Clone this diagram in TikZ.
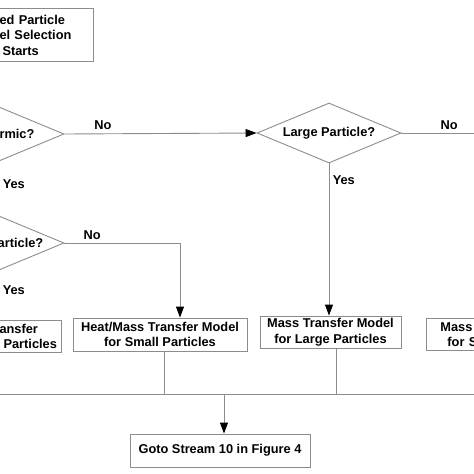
\documentclass[tikz,border=0pt]{standalone}
\usepackage{fontspec}
\setmainfont{Liberation Sans}
\usetikzlibrary{shapes.geometric,arrows.meta}
\definecolor{linegray}{RGB}{140,140,140}
\begin{document}
\begin{tikzpicture}[x=1pt,y=-1pt,
    font=\fontsize{12.8}{15.5}\selectfont\bfseries,
    box/.style={rectangle,draw=linegray,line width=0.9pt,inner ysep=2pt,align=center},
    decision/.style={diamond,draw=linegray,line width=0.9pt,minimum width=144pt,minimum height=60pt,inner sep=0pt,shape aspect=2.4},
    flow/.style={draw=linegray,line width=0.9pt},
    arr/.style={flow,-{Triangle[length=11pt,width=8pt,color=black]}}]
    \useasboundingbox (0,0) rectangle (474,474);
    \clip (0,0) rectangle (474,474);

    % Start box (cut at the left edge)
    \node[box,anchor=north east,text width=90pt,align=left,inner xsep=4pt,minimum height=53pt] (start) at (94,8) {ed Particle\\el Selection\\\hspace*{3pt}Starts};

    % Decisions
    \node[decision] (heat) at (-8,134) {\hspace*{50pt}rmic?};
    \node[decision] (large) at (329,133) {Large Particle?};
    \node[decision] (small) at (-8,243) {\hspace*{57pt}article?};

    % Model boxes
    \node[box,anchor=north east,text width=58pt,align=left,inner xsep=4pt,minimum height=32pt] (largeheat) at (62,320) {ansfer\\\hspace*{4pt}Particles};
    \node[box,minimum width=174pt,minimum height=33pt] (smallheat) at (160,334.5) {Heat/Mass Transfer Model\\for Small Particles};
    \node[box,minimum width=141pt,minimum height=32pt] (largemass) at (330.5,332) {Mass Transfer Model\\for Large Particles};
    \node[box,anchor=north west,text width=60pt,align=left,inner xsep=14pt,minimum height=32pt] (smallmass) at (426,318) {Mass\\\hspace*{7pt}for S};

    % End box
    \node[box,minimum width=180pt,minimum height=33pt] (goto) at (220,450.5) {Goto Stream 10 in Figure 4};

    \coordinate (largeout) at (490,133);
    \coordinate (busL) at (-20,394);
    \coordinate (busR) at (494,394);

    % Decision edges
    \draw[arr] (heat.east) -- node[pos=0.2,above] {No} (large.west);
    \draw[flow] (large.east) -- node[pos=0.54,above] {No} (largeout);
    \draw[arr] (large.south) -- node[pos=0.11,right] {Yes} (large.south |- largemass.north);
    \draw[arr] (heat.south) -- node[pos=0.4,anchor=west,xshift=7pt] {Yes} (small.north);
    \draw[arr] (small.south) -- node[pos=0.36,anchor=west,xshift=7pt] {Yes} (small.south |- largeheat.north);
    \draw[arr] (small.east) -| node[pos=0.12,above] {No} ([xshift=20pt]smallheat.north);

    % Collector line
    \draw[flow] (busL) -- (busR);
    \draw[flow] ([xshift=4pt]smallheat.south) -- ([xshift=4pt]smallheat.south |- busL);
    \draw[flow] ([xshift=5.5pt]largemass.south) -- ([xshift=5.5pt]largemass.south |- busL);
    \draw[arr] ([xshift=4pt]goto.north |- busL) -- ([xshift=4pt]goto.north);
\end{tikzpicture}
\end{document}
